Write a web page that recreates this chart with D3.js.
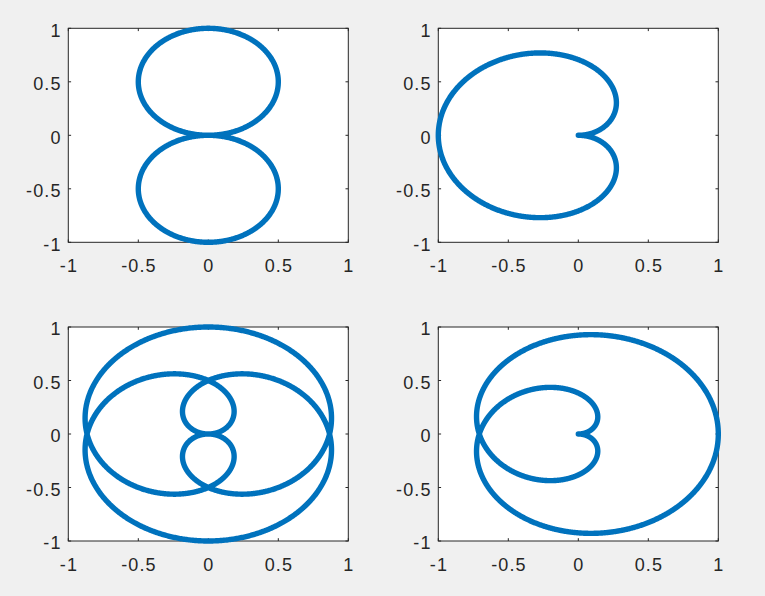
<!DOCTYPE html>
<html>
<head>
<meta charset="utf-8">
<script src="https://cdn.jsdelivr.net/npm/d3@7"></script>
<style>
  html, body { margin: 0; padding: 0; background: #f0f0f0; }
  svg { display: block; }
  .tick-label { font-family: "Liberation Sans", Arial, Helvetica, sans-serif; font-size: 18px; fill: #262626; letter-spacing: 1.1px; }
</style>
</head>
<body>
<svg id="chart" width="765" height="596"></svg>
<script>
// ---- data ----
// Each panel: polar curve r = |sin(theta / n)|, theta from 0 to turns*pi
const denominators = [1, 2, 3, 4];
const turns = [2, 2, 6, 4];          // theta range in units of pi
const sampleCounts = [1200, 1200, 2400, 2400];
const xTickValues = [-1, -0.5, 0, 0.5, 1];
const yTickValues = [-1, -0.5, 0, 0.5, 1];
const xTickLabels = ["-1", "-0.5", "0", "0.5", "1"];
const yTickLabels = ["-1", "-0.5", "0", "0.5", "1"];
const xDomain = [-1, 1];
const yDomain = [-1, 1];

// ---- layout ----
const panels = [
  { left: 68.3, top: 28.3 },
  { left: 438.3, top: 28.3 },
  { left: 68.3, top: 327 },
  { left: 438.3, top: 327 }
];
const W = 280, H = 214, tickLen = 2.8;
const axisColor = "#262626", lineColor = "#0072BD";

const svg = d3.select("#chart");
svg.append("rect").attr("width", 765).attr("height", 596).attr("fill", "#f0f0f0");

panels.forEach((p, i) => {
  const x = d3.scaleLinear().domain(xDomain).range([p.left, p.left + W]);
  const y = d3.scaleLinear().domain(yDomain).range([p.top + H, p.top]);
  const g = svg.append("g");

  g.append("rect")
    .attr("x", p.left).attr("y", p.top).attr("width", W).attr("height", H)
    .attr("fill", "#fff").attr("stroke", axisColor).attr("stroke-width", 1);

  // ticks (inward, on all four sides)
  xTickValues.forEach(v => {
    g.append("line").attr("x1", x(v)).attr("x2", x(v))
      .attr("y1", p.top + H).attr("y2", p.top + H - tickLen)
      .attr("stroke", axisColor).attr("stroke-width", 1);
    g.append("line").attr("x1", x(v)).attr("x2", x(v))
      .attr("y1", p.top).attr("y2", p.top + tickLen)
      .attr("stroke", axisColor).attr("stroke-width", 1);
  });
  yTickValues.forEach(v => {
    g.append("line").attr("x1", p.left).attr("x2", p.left + tickLen)
      .attr("y1", y(v)).attr("y2", y(v))
      .attr("stroke", axisColor).attr("stroke-width", 1);
    g.append("line").attr("x1", p.left + W).attr("x2", p.left + W - tickLen)
      .attr("y1", y(v)).attr("y2", y(v))
      .attr("stroke", axisColor).attr("stroke-width", 1);
  });

  // tick labels
  xTickValues.forEach((v, k) => {
    g.append("text").attr("class", "tick-label")
      .attr("x", x(v) + 0.6).attr("y", p.top + H + 29.5)
      .attr("text-anchor", "middle").text(xTickLabels[k]);
  });
  yTickValues.forEach((v, k) => {
    g.append("text").attr("class", "tick-label")
      .attr("x", p.left - 6.8).attr("y", y(v) + 8.3)
      .attr("text-anchor", "end").text(yTickLabels[k]);
  });

  // curve
  const n = denominators[i];
  const thetaMax = turns[i] * Math.PI;
  const thetas = d3.range(sampleCounts[i] + 1).map(k => thetaMax * k / sampleCounts[i]);
  const pts = thetas.map(t => {
    const r = Math.abs(Math.sin(t / n));
    return [r * Math.cos(t), r * Math.sin(t)];
  });
  const line = d3.line().x(d => x(d[0])).y(d => y(d[1]));
  g.append("path").datum(pts)
    .attr("d", line)
    .attr("fill", "none").attr("stroke", lineColor)
    .attr("stroke-width", 5.4)
    .attr("stroke-linejoin", "round").attr("stroke-linecap", "round");
});
</script>
</body>
</html>
